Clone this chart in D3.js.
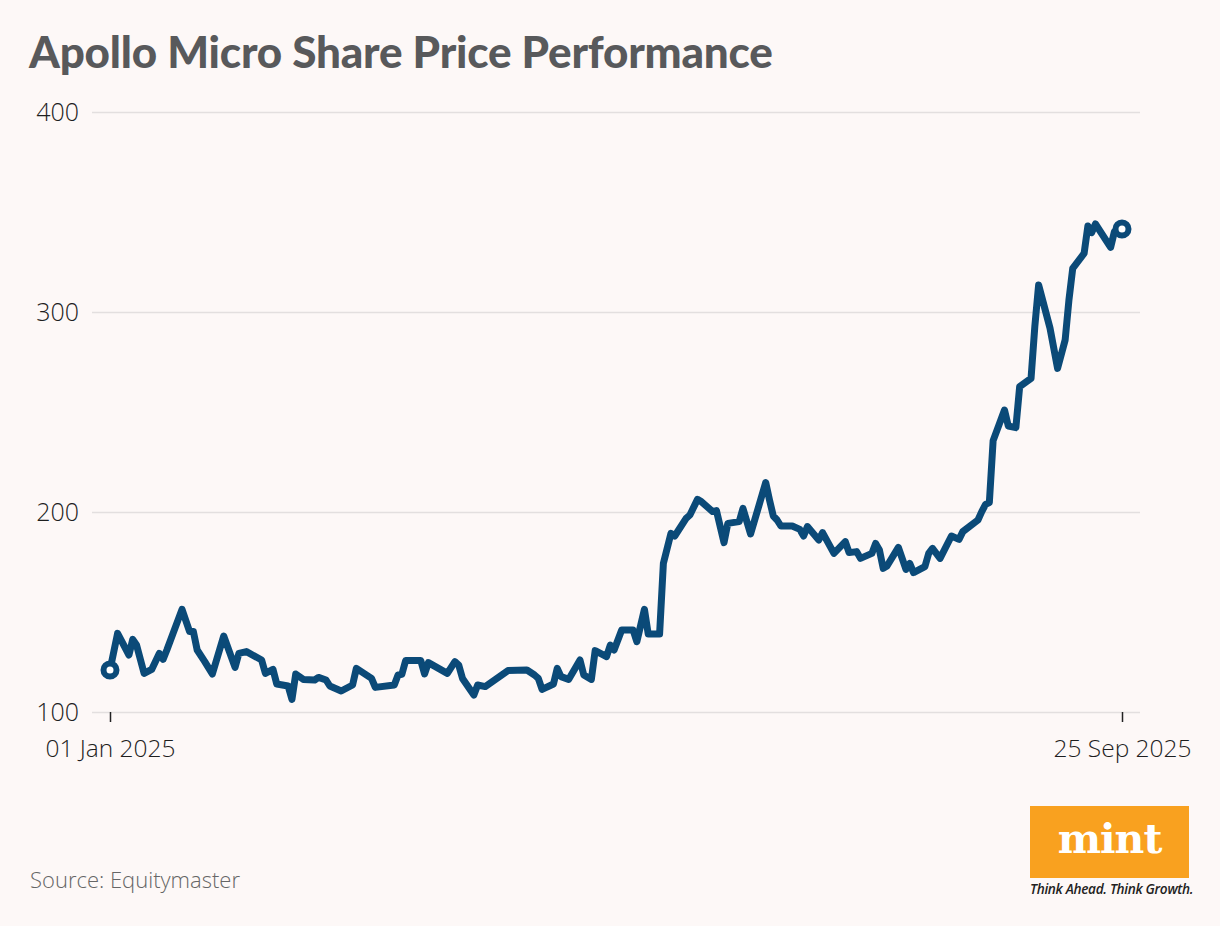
<!DOCTYPE html>
<html><head><meta charset="utf-8">
<script src="https://cdn.jsdelivr.net/npm/d3@7"></script>
<style>
html,body{margin:0;padding:0;background:#fdf8f7;}
svg{display:block;}
</style></head>
<body>
<svg id="chart" width="1220" height="926"></svg>
<script>
const dates = ["2025-01-01","2025-01-03","2025-01-06","2025-01-07","2025-01-08","2025-01-10","2025-01-12","2025-01-14","2025-01-15","2025-01-16","2025-01-20","2025-01-22","2025-01-23","2025-01-24","2025-01-26","2025-01-28","2025-01-31","2025-02-03","2025-02-04","2025-02-06","2025-02-10","2025-02-11","2025-02-13","2025-02-14","2025-02-17","2025-02-18","2025-02-19","2025-02-21","2025-02-24","2025-02-25","2025-02-27","2025-02-28","2025-03-03","2025-03-06","2025-03-07","2025-03-11","2025-03-12","2025-03-17","2025-03-18","2025-03-19","2025-03-20","2025-03-24","2025-03-25","2025-03-26","2025-03-31","2025-04-02","2025-04-03","2025-04-04","2025-04-07","2025-04-08","2025-04-10","2025-04-16","2025-04-21","2025-04-23","2025-04-24","2025-04-25","2025-04-28","2025-04-29","2025-04-30","2025-05-02","2025-05-05","2025-05-06","2025-05-08","2025-05-09","2025-05-12","2025-05-13","2025-05-14","2025-05-16","2025-05-19","2025-05-20","2025-05-22","2025-05-23","2025-05-26","2025-05-27","2025-05-29","2025-05-30","2025-06-02","2025-06-03","2025-06-05","2025-06-06","2025-06-09","2025-06-10","2025-06-12","2025-06-13","2025-06-16","2025-06-17","2025-06-19","2025-06-23","2025-06-24","2025-06-25","2025-06-26","2025-06-27","2025-06-30","2025-07-02","2025-07-03","2025-07-04","2025-07-07","2025-07-08","2025-07-11","2025-07-14","2025-07-15","2025-07-17","2025-07-18","2025-07-21","2025-07-22","2025-07-23","2025-07-24","2025-07-25","2025-07-28","2025-07-30","2025-07-31","2025-08-01","2025-08-04","2025-08-05","2025-08-06","2025-08-08","2025-08-11","2025-08-13","2025-08-14","2025-08-18","2025-08-19","2025-08-20","2025-08-21","2025-08-22","2025-08-25","2025-08-26","2025-08-28","2025-08-29","2025-09-01","2025-09-02","2025-09-03","2025-09-06","2025-09-08","2025-09-10","2025-09-11","2025-09-12","2025-09-15","2025-09-16","2025-09-17","2025-09-18","2025-09-22","2025-09-23","2025-09-25"];
const prices = [121,139.3,128.5,136.3,133.5,119.3,121.3,129.3,126.3,131,151.3,140.2,140.2,131,125.2,119,138,122.3,129.3,130.2,126,119.3,121.3,114,113,106.3,119,116.3,116,117.3,116,113,110.5,113.5,121.8,116.8,112.3,113.5,118.5,118.8,125.7,125.7,119,124.7,119.3,125.2,123.5,116.8,108.5,113.5,112.7,120.7,121,118.5,116.8,111.3,114,121.8,117.7,116.3,126,118.5,116.3,130.7,127.7,133.5,131,141,141,135.2,151.3,139,139,174.3,189.3,188,196.8,198.5,206.3,205.2,200.2,200.7,184.7,194.3,195.2,201.8,189,214.7,206,198,196,193,193,191.3,188,192.7,186,189.7,179.3,185.2,179.7,180.2,176.8,179.3,184.3,181,171.8,173,182.3,171.3,174.3,169.7,172.7,179.3,181.8,176.8,188,186.3,190.2,196,200.2,203.8,204.7,235.7,251,243,242.2,262.7,266.8,292.7,313.5,292,271.8,286,306,321.8,329.3,343,339.7,344,332.3,340.2,341.5];
const yTicks = [100,200,300,400];
const xTickLabels = ["01 Jan 2025","25 Sep 2025"];
const title = "Apollo Micro Share Price Performance";
const source = "Source: Equitymaster";

const parse = d3.timeParse("%Y-%m-%d");
const data = dates.map((d,i)=>({date:parse(d), value:prices[i]}));

const svg = d3.select("#chart");
const W=1220,H=926;
svg.append("rect").attr("width",W).attr("height",H).attr("fill","#fdf8f7");

const x = d3.scaleTime().domain([parse("2025-01-01"), parse("2025-09-25")]).range([110,1122]);
const y = d3.scaleLinear().domain([100,400]).range([712,112]);

svg.append("text").attr("x",29).attr("y",68).text(title)
  .attr("font-family","Lato").attr("font-weight",900).attr("font-size",44)
  .attr("letter-spacing","-0.2").attr("fill","#58595b");

// grid
const grid = svg.append("g")
  .call(d3.axisLeft(y).tickValues(yTicks).tickSize(-(1140-92)).tickFormat(d3.format("d")))
  .attr("transform","translate(92,0)");
grid.select(".domain").remove();
grid.selectAll(".tick line").attr("stroke","#e3dfdf").attr("stroke-width",1.5);
grid.selectAll(".tick text").attr("x",-13).attr("dy","0.32em")
  .attr("font-family","Open Sans").attr("font-weight",300).attr("font-size",25).attr("fill","#1e1e1e");

// x axis
const xAxis = svg.append("g").attr("transform","translate(0,712)")
  .call(d3.axisBottom(x).tickValues([parse("2025-01-01"), parse("2025-09-25")])
    .tickSize(10).tickFormat((d,i)=>xTickLabels[i]));
xAxis.select(".domain").remove();
xAxis.selectAll(".tick line").attr("stroke","#222").attr("stroke-width",1.5);
xAxis.selectAll(".tick text").attr("y",28).attr("dy","0.71em")
  .attr("font-family","Open Sans").attr("font-weight",300).attr("font-size",24.5).attr("fill","#1e1e1e");

// line
const line = d3.line().x(d=>x(d.date)).y(d=>y(d.value));
svg.append("path").datum(data).attr("d",line).attr("fill","none")
  .attr("stroke","#0b4a78").attr("stroke-width",7).attr("stroke-linejoin","round").attr("stroke-linecap","round");

svg.selectAll("circle.end").data([data[0], data[data.length-1]]).enter().append("circle")
  .attr("class","end").attr("cx",d=>x(d.date)).attr("cy",d=>y(d.value)).attr("r",6.5)
  .attr("fill","#fff").attr("stroke","#0b4a78").attr("stroke-width",6);

svg.append("text").attr("x",30).attr("y",888).text(source)
  .attr("font-family","Open Sans").attr("font-weight",300).attr("font-size",22).attr("fill","#666");

// logo
const logo = svg.append("g");
logo.append("rect").attr("x",1030).attr("y",806).attr("width",159).attr("height",72).attr("fill","#f9a11f");
logo.append("text").attr("x",1109.5).attr("y",853).attr("text-anchor","middle").text("mint")
  .attr("font-family","DejaVu Serif").attr("font-weight",700).attr("font-size",41).attr("fill","#fff").attr("letter-spacing","-1");
logo.append("text").attr("x",1030).attr("y",894).text("Think Ahead. Think Growth.")
  .attr("font-family","Open Sans").attr("font-style","italic").attr("font-weight",600).attr("font-size",13.6).attr("fill","#222").attr("letter-spacing","-0.3");
</script>
</body></html>
